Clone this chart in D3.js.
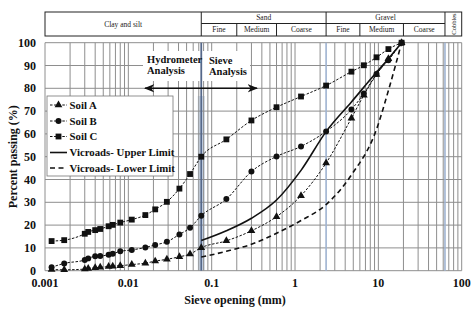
<!DOCTYPE html>
<html>
<head>
<meta charset="utf-8">
<script src="https://cdn.jsdelivr.net/npm/d3@7"></script>
<style>
  body { margin: 0; background: #fff; }
  svg text { font-family: "Liberation Serif", "Times New Roman", serif; }
</style>
</head>
<body>
<svg id="chart" width="474" height="310"></svg>
<script>
// Sieve / hydrometer sizes (mm) shared by the three soils
const soilSizes = [0.0012, 0.0017, 0.003, 0.0033, 0.004, 0.0046, 0.0058, 0.0065, 0.008, 0.011,
    0.016, 0.021, 0.029, 0.041, 0.055, 0.075, 0.15, 0.3, 0.6, 1.18, 2.36, 4.75, 6.7, 9.5, 13.2, 19];
const soilA = [0.5, 0.4, 0.7, 1.0, 1.3, 1.5, 1.8, 2.0, 2.2, 2.7,
    3.3, 4.2, 5.0, 6.1, 7.3, 10.1, 13.1, 17.5, 23.7, 32.9, 47.2, 66.9, 77, 86, 93, 100];
const soilB = [1.5, 3.2, 4.7, 5.4, 6.3, 6.4, 7.0, 7.4, 8.5, 9.1,
    10.2, 11.3, 12.7, 15.9, 18.8, 24.1, 31.4, 43.5, 50.1, 54.5, 61.1, 70.7, 77.7, 86.3, 92.3, 100];
const soilC = [13.0, 13.4, 16.2, 17.0, 17.8, 18.3, 19.5, 20.1, 21.1, 22.4,
    24.4, 26.9, 30.2, 36.0, 42.4, 50.0, 57.6, 65.9, 71.7, 76.4, 81.2, 87.3, 90.1, 93.6, 97.2, 100];

// Vicroads grading envelope
const limitSizes = [0.075, 0.15, 0.3, 0.6, 1.18, 2.36, 4.75, 9.5, 13.2, 19];
const upperLimit = [13.2, 17.5, 23, 31, 44, 61, 74, 87, 93, 100];
const lowerLimit = [6, 8.5, 11.6, 16.4, 22, 29, 42, 62, 79, 100];

// Axis ticks
const xTicks = [0.001, 0.01, 0.1, 1, 10, 100];
const xTickLabels = ["0.001", "0.01", "0.1", "1", "10", "100"];
const yTicks = [0, 10, 20, 30, 40, 50, 60, 70, 80, 90, 100];

// Soil classification header
const mainClasses = ["Clay and silt", "Sand", "Gravel", "Cobbles"];
const mainBounds = [0.001, 0.075, 2.36, 63, 100];
const subClasses = ["Fine", "Medium", "Coarse", "Fine", "Medium", "Coarse"];
const subBounds = [0.075, 0.2, 0.6, 2.36, 6, 20, 63];
const markerSizes = [2.36, 63];

const svg = d3.select('#chart');
const x = d3.scaleLog().domain([0.001, 100]).range([45, 461.7]);
const y = d3.scaleLinear().domain([0, 100]).range([270.7, 42.7]);

const gridColor = '#8e8e8e';

// vertical grid: 1..9 of every decade
const gridVals = [];
for (let d = 0.001; d < 99; d *= 10) {
    for (let k = 1; k <= 9; k++) gridVals.push(+(k * d).toPrecision(3));
}
gridVals.push(100);

const grid = svg.append('g');

// light blue band along 0.075 mm boundary
grid.append('rect')
    .attr('x', x(0.075) - 3.5).attr('width', 7)
    .attr('y', 96).attr('height', y(0) - 96)
    .attr('fill', '#cfdcec');

grid.selectAll('.vgrid')
    .data(gridVals)
    .enter().append('line')
    .attr('x1', d => x(d)).attr('x2', d => x(d))
    .attr('y1', y(100)).attr('y2', y(0))
    .attr('stroke', gridColor).attr('stroke-width', 1);

grid.selectAll('.hgrid')
    .data(yTicks)
    .enter().append('line')
    .attr('x1', x(0.001)).attr('x2', x(100))
    .attr('y1', d => y(d)).attr('y2', d => y(d))
    .attr('stroke', gridColor).attr('stroke-width', 1);

grid.selectAll('.bline')
    .data(markerSizes)
    .enter().append('line')
    .attr('x1', d => x(d)).attr('x2', d => x(d))
    .attr('y1', y(100)).attr('y2', y(0))
    .attr('stroke', '#9fb3d1').attr('stroke-width', 1.6);

// white patch behind the analysis annotation
svg.append('rect')
    .attr('x', 143).attr('y', 51).attr('width', 107).attr('height', 30)
    .attr('fill', '#fff');

svg.append('line')
    .attr('x1', x(0.075)).attr('x2', x(0.075))
    .attr('y1', y(100)).attr('y2', y(0))
    .attr('stroke', '#55688a').attr('stroke-width', 1.8);

// header table
const head = svg.append('g').attr('stroke', '#222').attr('fill', 'none');
const hTop = 12, hMid = 23.5, hBot = 36;
head.append('rect').attr('x', x(0.001)).attr('y', hTop)
    .attr('width', x(100) - x(0.001)).attr('height', hBot - hTop).attr('stroke-width', 1);
head.append('line').attr('x1', x(0.075)).attr('x2', x(63))
    .attr('y1', hMid).attr('y2', hMid);
head.selectAll('.mdiv').data(mainBounds.slice(1, 4)).enter().append('line')
    .attr('x1', d => x(d)).attr('x2', d => x(d)).attr('y1', hTop).attr('y2', hBot);
head.selectAll('.sdiv').data([subBounds[1], subBounds[2], subBounds[4], subBounds[5]]).enter().append('line')
    .attr('x1', d => x(d)).attr('x2', d => x(d)).attr('y1', hMid).attr('y2', hBot);

const headText = svg.append('g').attr('font-size', 7.5).attr('fill', '#222').attr('text-anchor', 'middle');
mainClasses.forEach((name, i) => {
    const cx = (x(mainBounds[i]) + x(mainBounds[i + 1])) / 2;
    if (name === 'Cobbles') {
        headText.append('text')
            .attr('transform', `translate(${cx + 2.5},${(hTop + hBot) / 2}) rotate(-90)`)
            .attr('font-size', 6.5)
            .text(name);
    } else if (name === 'Clay and silt') {
        headText.append('text').attr('x', cx).attr('y', (hTop + hBot) / 2 + 2.5).text(name);
    } else {
        headText.append('text').attr('x', cx).attr('y', (hTop + hMid) / 2 + 2.5).text(name);
    }
});
subClasses.forEach((name, i) => {
    const cx = (x(subBounds[i]) + x(subBounds[i + 1])) / 2;
    headText.append('text').attr('x', cx).attr('y', (hMid + hBot) / 2 + 2.5).text(name);
});

// axis tick labels
const lab = svg.append('g').attr('font-weight', 'bold').attr('fill', '#111').attr('font-size', 12);
lab.selectAll('.ylab').data(yTicks).enter().append('text')
    .attr('x', 36).attr('y', d => y(d) + 4)
    .attr('text-anchor', 'end')
    .text(d => d);
lab.selectAll('.xlab').data(xTicks).enter().append('text')
    .attr('x', d => x(d)).attr('y', 287)
    .attr('text-anchor', 'middle')
    .text((d, i) => xTickLabels[i]);

lab.append('text')
    .attr('x', 235).attr('y', 304)
    .attr('text-anchor', 'middle')
    .text('Sieve opening (mm)');
lab.append('text')
    .attr('transform', `translate(17,${(y(0) + y(100)) / 2}) rotate(-90)`)
    .attr('text-anchor', 'middle')
    .text('Percent passing (%)');

// annotation
const ann = svg.append('g').attr('font-weight', 'bold').attr('font-size', 10.5).attr('fill', '#111');
ann.append('text').attr('x', 147).attr('y', 63).text('Hydrometer');
ann.append('text').attr('x', 147).attr('y', 74).text('Analysis');
ann.append('text').attr('x', 209).attr('y', 64).text('Sieve');
ann.append('text').attr('x', 209).attr('y', 75).text('Analysis');

const defs = svg.append('defs');
defs.append('marker').attr('id', 'arr')
    .attr('viewBox', '0 0 10 10').attr('refX', 9).attr('refY', 5)
    .attr('markerWidth', 7).attr('markerHeight', 7)
    .attr('orient', 'auto-start-reverse')
    .append('path').attr('d', 'M0,1 L10,5 L0,9 L3,5 Z').attr('fill', '#111');
svg.append('line')
    .attr('x1', 145).attr('x2', 257)
    .attr('y1', y(80)).attr('y2', y(80))
    .attr('stroke', '#111').attr('stroke-width', 1.5)
    .attr('marker-start', 'url(#arr)').attr('marker-end', 'url(#arr)');

// series
const line = d3.line()
    .x(d => x(d[0])).y(d => y(d[1]))
    .curve(d3.curveMonotoneX);

const zip = (xs, ys) => xs.map((v, i) => [v, ys[i]]);

const soils = [
    { name: 'Soil A', data: zip(soilSizes, soilA), shape: d3.symbolTriangle, size: 26 },
    { name: 'Soil B', data: zip(soilSizes, soilB), shape: d3.symbolCircle, size: 28 },
    { name: 'Soil C', data: zip(soilSizes, soilC), shape: d3.symbolSquare, size: 34 }
];
const limits = [
    { name: 'Vicroads- Upper Limit', data: zip(limitSizes, upperLimit), dash: null },
    { name: 'Vicroads- Lower Limit', data: zip(limitSizes, lowerLimit), dash: '5,3.5' }
];

const plot = svg.append('g');
limits.forEach(s => {
    plot.append('path')
        .attr('d', line(s.data))
        .attr('fill', 'none').attr('stroke', '#111').attr('stroke-width', 1.6)
        .attr('stroke-dasharray', s.dash);
});
soils.forEach(s => {
    plot.append('path')
        .attr('d', line(s.data))
        .attr('fill', 'none').attr('stroke', '#111').attr('stroke-width', 1)
        .attr('stroke-dasharray', '2.5,1.6');
    plot.selectAll(null).data(s.data).enter().append('path')
        .attr('transform', d => `translate(${x(d[0])},${y(d[1])})`)
        .attr('d', d3.symbol().type(s.shape).size(s.size))
        .attr('fill', '#111');
});

// legend
const leg = svg.append('g');
leg.append('rect')
    .attr('x', 47).attr('y', 96).attr('width', 126).attr('height', 80)
    .attr('fill', '#fff').attr('stroke', '#777').attr('stroke-width', 0.8);
const legRows = [105, 121, 136.5, 152.5, 168];
const legItems = soils.concat(limits);
legItems.forEach((s, i) => {
    const g = leg.append('g').attr('transform', `translate(0,${legRows[i]})`);
    if (s.shape) {
        g.append('line').attr('x1', 50).attr('x2', 67)
            .attr('stroke', '#111').attr('stroke-width', 1).attr('stroke-dasharray', '2.5,1.6');
        g.append('path').attr('transform', 'translate(58.5,0)')
            .attr('d', d3.symbol().type(s.shape).size(s.size)).attr('fill', '#111');
    } else {
        g.append('line').attr('x1', 50).attr('x2', 67)
            .attr('stroke', '#111').attr('stroke-width', 1.6).attr('stroke-dasharray', s.dash);
    }
    g.append('text').attr('x', 69.5).attr('y', 3.8)
        .attr('font-weight', 'bold').attr('font-size', 10.8).attr('fill', '#111')
        .text(s.name);
});
</script>
</body>
</html>
